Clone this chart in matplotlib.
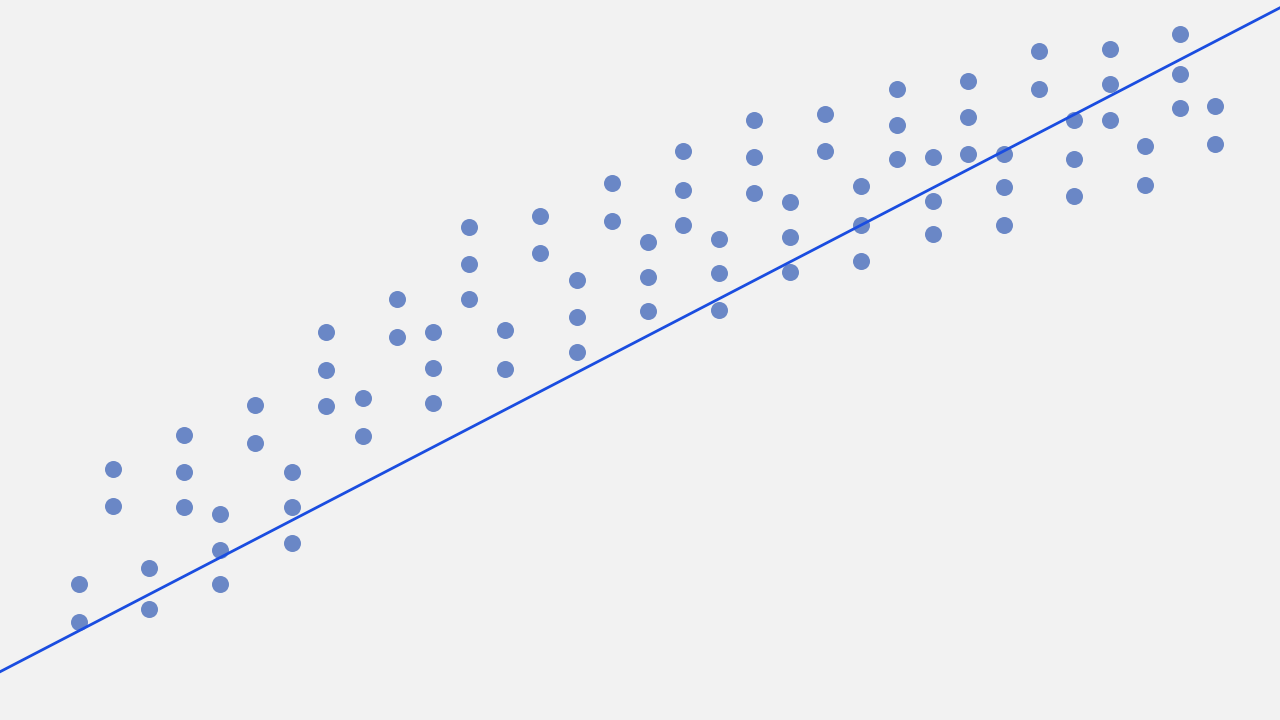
import numpy as np
import matplotlib.pyplot as plt

# point columns (pixel-like units, y grows downward)
col_x = [79, 113, 149, 184, 220, 255, 292, 326, 363, 397, 433, 469, 505, 540,
         577, 612, 648, 683, 719, 754, 790, 825, 861, 897, 933, 968, 1004,
         1039, 1074, 1110, 1145, 1180, 1215]
col_y = [
    [584, 622],
    [469, 506],
    [568, 609],
    [435, 472, 507],
    [514, 550, 584],
    [405, 443],
    [472, 507, 543],
    [332, 370, 406],
    [398, 436],
    [299, 337],
    [332, 368, 403],
    [227, 264, 299],
    [330, 369],
    [216, 253],
    [280, 317, 352],
    [183, 221],
    [242, 277, 311],
    [151, 190, 225],
    [239, 273, 310],
    [120, 157, 193],
    [202, 237, 272],
    [114, 151],
    [186, 225, 261],
    [89, 125, 159],
    [157, 201, 234],
    [81, 117, 154],
    [154, 187, 225],
    [51, 89],
    [120, 159, 196],
    [49, 84, 120],
    [146, 185],
    [34, 74, 108],
    [106, 144],
]

# trend line end points
line_x = [0, 1280]
line_y = [671, 7]

xs = np.concatenate([[x] * len(ys) for x, ys in zip(col_x, col_y)])
ys = np.concatenate(col_y)

bg = '#f2f2f2'
fig = plt.figure(figsize=(12.8, 7.2), dpi=100, facecolor=bg)
ax = fig.add_axes([0, 0, 1, 1])
ax.set_facecolor(bg)

ax.scatter(xs, ys, s=150, color='#6a87c6', edgecolors='none', zorder=2)
ax.plot(line_x, line_y, color='#1a4de0', linewidth=2.0, zorder=3)

ax.set_xlim(-0.5, 1279.5)
ax.set_ylim(719.5, -0.5)
ax.axis('off')

fig.savefig('out.png', dpi=100, facecolor=bg)
